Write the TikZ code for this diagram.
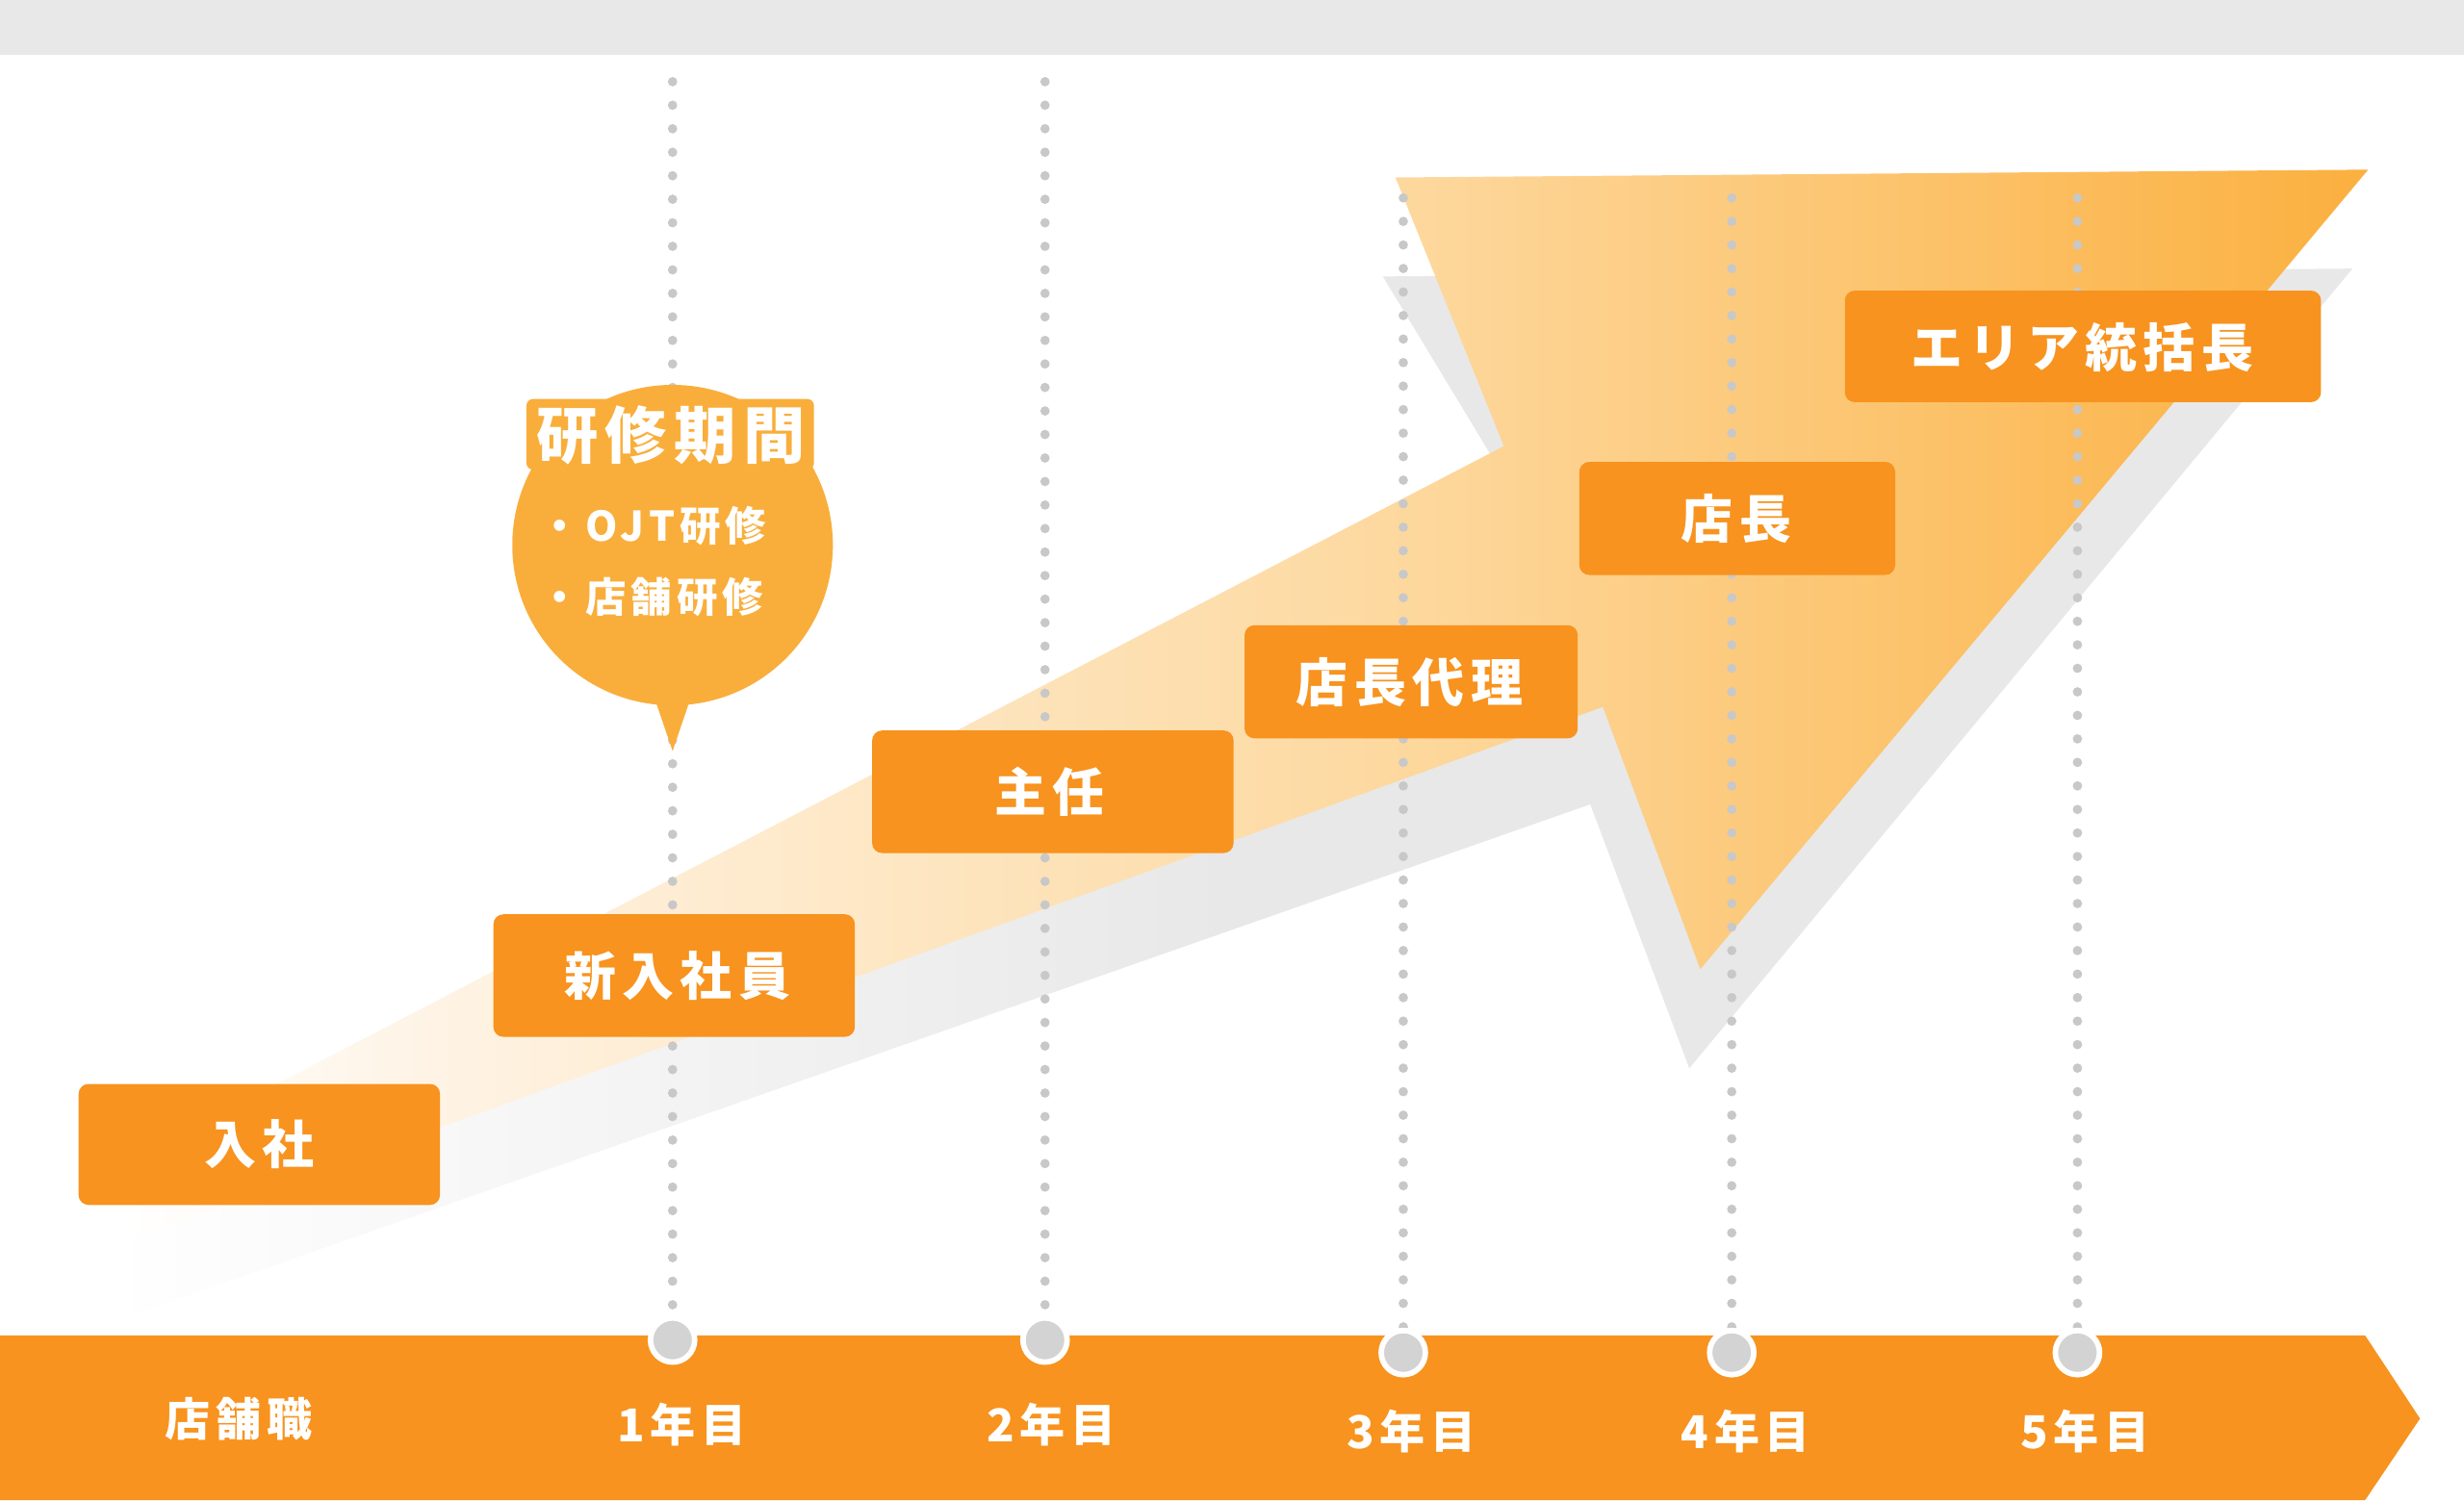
\documentclass[tikz,border=0pt]{standalone}
\usepackage{fontspec}
\newfontfamily\jp{Noto Sans CJK JP}[LetterSpace=12]
\definecolor{org}{HTML}{F7931E}
\definecolor{bub}{HTML}{F9AE3B}
\definecolor{lgray}{HTML}{E8E8E8}
\definecolor{dotg}{HTML}{C8C8C8}
\definecolor{arrL}{HTML}{FDD9A0}
\definecolor{arrR}{HTML}{FBB03F}
\definecolor{arrW}{HTML}{FEF3E4}
\definecolor{shW}{HTML}{FAFAFA}
\pgfdeclarehorizontalshading{arrsh}{100bp}{color(0bp)=(white); color(25bp)=(white); color(32bp)=(arrW); color(53bp)=(arrL); color(75bp)=(arrR); color(100bp)=(arrR)}
\pgfdeclarehorizontalshading{shsh}{100bp}{color(0bp)=(white); color(25bp)=(white); color(30bp)=(shW); color(50bp)=(lgray); color(100bp)=(lgray)}
\tikzset{
 stage/.style={rounded corners=9pt,text=white,font=\jp\bfseries\fontsize{47}{50}\selectfont},
 yearlbl/.style={text=white,font=\jp\bfseries\fontsize{41}{44}\selectfont},
 dotline/.style={dotg,line width=8.5pt,line cap=round,dash pattern=on 0pt off 21.3pt},
 ycirc/.style={circle,fill=dotg!80,draw=white,line width=5pt,minimum size=40pt,inner sep=0pt}
}
\begin{document}
\begin{tikzpicture}[x=0.05cm,y=-0.05cm]
\useasboundingbox (0,0) rectangle (1568,956);
\fill[white] (0,0) rectangle (1568,956);
\fill[lgray] (0,0) rectangle (1568,35);
% shadow arrow
\shade[shading=shsh] (70,842) -- (1012,512) -- (1075,680) -- (1497,171) -- (880,176) -- (955,300) -- (70,770) -- cycle;
% orange arrow
\shade[shading=arrsh] (80,740) -- (957,284) -- (888,113) -- (1507,108) -- (1082,617) -- (1020,450) -- (80,790) -- cycle;
% dotted lines
\coordinate (t1) at (428,52); \coordinate (b1) at (428,838);
\coordinate (t2) at (665,52); \coordinate (b2) at (665,838);
\coordinate (t3) at (893,126); \coordinate (b3) at (893,846);
\coordinate (t4) at (1102,126); \coordinate (b4) at (1102,846);
\coordinate (t5) at (1322,126); \coordinate (b5) at (1322,846);
\foreach \i in {1,...,5} \draw[dotline] (t\i) -- (b\i);
% bottom bar
\fill[org] (0,850) -- (1505,850) -- (1540,903) -- (1505,955) -- (0,955) -- cycle;
\node[ycirc] (c1) at (428,853) {};
\node[ycirc] (c2) at (665,853) {};
\node[ycirc] (c3) at (893,861) {};
\node[ycirc] (c4) at (1102,861) {};
\node[ycirc] (c5) at (1322,861) {};
\node[yearlbl] (y0) at (152,903) {店舗職};
\node[yearlbl] (y1) at (434,907) {1年目};
\node[yearlbl] (y2) at (669,907) {2年目};
\node[yearlbl] (y3) at (898,911) {3年目};
\node[yearlbl] (y4) at (1111,911) {4年目};
\node[yearlbl] (y5) at (1327,911) {5年目};
% stage boxes
\fill[org,rounded corners=9pt] (50,690) rectangle (280,767);
\fill[org,rounded corners=9pt] (314,582) rectangle (544,660);
\fill[org,rounded corners=9pt] (555,465) rectangle (785,543);
\fill[org,rounded corners=9pt] (792,398) rectangle (1004,470);
\fill[org,rounded corners=9pt] (1005,294) rectangle (1206,366);
\fill[org,rounded corners=9pt] (1174,185) rectangle (1477,256);
\node[stage] (n0) at (165,728) {入社};
\node[stage] (n1) at (431,621) {新入社員};
\node[stage] (n2) at (668,504) {主任};
\node[stage] (n3) at (897,434) {店長代理};
\node[stage] (n4) at (1105,330) {店長};
\node[stage] (n5) at (1325,221) {エリア統括長};
% bubble
\fill[bub] (428,347) circle[radius=102];
\fill[bub] (415,440) -- (428,478) -- (441,440) -- cycle;
\fill[bub,rounded corners=6pt] (335,254) rectangle (518,299);
\node[text=white,font=\jp\bfseries\fontsize{56}{58}\selectfont] (bt) at (427,277) {研修期間};
\node[text=white,font=\jp\bfseries\fontsize{37}{40}\selectfont,anchor=west] (bl1) at (341,335) {・OJT研修};
\node[text=white,font=\jp\bfseries\fontsize{37}{40}\selectfont,anchor=west] (bl2) at (341,380) {・店舗研修};
\end{tikzpicture}
\end{document}
